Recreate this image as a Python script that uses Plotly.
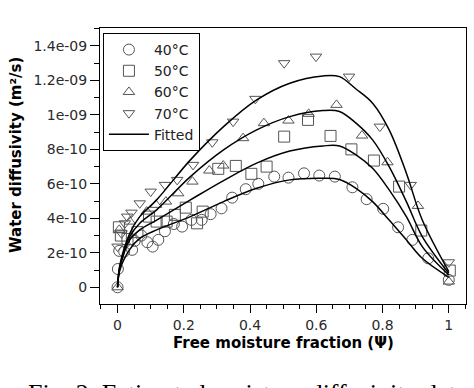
import numpy as np
import plotly.graph_objects as go

# Measured data (y in units of 1e-9 m^2/s)
x40 = [0, 0.001, 0.005, 0.02, 0.044, 0.052, 0.072, 0.09, 0.106, 0.123, 0.143, 0.17, 0.195, 0.223,
       0.254, 0.281, 0.314, 0.346, 0.387, 0.425, 0.473, 0.516, 0.563, 0.609, 0.656, 0.709, 0.752,
       0.802, 0.847, 0.89, 0.938, 1.0]
y40 = [0, 0.106, 0.211, 0.207, 0.217, 0.269, 0.30, 0.261, 0.236, 0.275, 0.325, 0.367, 0.352, 0.391,
       0.391, 0.424, 0.458, 0.52, 0.569, 0.60, 0.642, 0.636, 0.661, 0.648, 0.642, 0.58, 0.511,
       0.455, 0.348, 0.275, 0.168, 0.043]

x50 = [0.004, 0.01, 0.03, 0.06, 0.095, 0.118, 0.148, 0.173, 0.206, 0.24, 0.257, 0.304, 0.357, 0.404,
       0.45, 0.503, 0.575, 0.643, 0.706, 0.774, 0.85, 0.917, 1.003]
y50 = [0.348, 0.30, 0.28, 0.32, 0.41, 0.381, 0.381, 0.42, 0.462, 0.371, 0.439, 0.687, 0.704, 0.658,
       0.70, 0.874, 0.971, 0.878, 0.80, 0.735, 0.584, 0.329, 0.097]

x60 = [0, 0.005, 0.037, 0.088, 0.116, 0.146, 0.183, 0.226, 0.277, 0.319, 0.379, 0.442, 0.516, 0.577,
       0.661, 0.738, 0.815, 0.907, 1.0]
y60 = [0, 0.333, 0.381, 0.439, 0.478, 0.497, 0.545, 0.613, 0.677, 0.706, 0.865, 0.952, 0.967, 1.006,
       1.058, 0.88, 0.725, 0.472, 0.033]

x70 = [0, 0.012, 0.022, 0.029, 0.042, 0.067, 0.10, 0.143, 0.18, 0.228, 0.286, 0.349, 0.416, 0.503,
       0.599, 0.699, 0.792, 0.885, 1.0]
y70 = [0.236, 0.313, 0.371, 0.41, 0.433, 0.487, 0.555, 0.594, 0.623, 0.71, 0.841, 0.961, 1.093, 1.30,
       1.338, 1.222, 0.932, 0.594, 0.145]

# Fitted curves
xf = [0, 0.007, 0.037, 0.067, 0.118, 0.22, 0.32, 0.42, 0.52, 0.62, 0.67, 0.72, 0.77, 0.82, 0.872,
      0.92, 1.0]
f40 = [0, 0.10, 0.22, 0.284, 0.333, 0.41, 0.497, 0.574, 0.623, 0.632, 0.625, 0.574, 0.497, 0.39,
       0.275, 0.168, 0.058]
f50 = [0, 0.11, 0.275, 0.333, 0.39, 0.507, 0.619, 0.72, 0.79, 0.82, 0.82, 0.768, 0.69, 0.565,
       0.41, 0.236, 0.072]
f60 = [0, 0.12, 0.294, 0.371, 0.449, 0.642, 0.797, 0.913, 0.99, 1.025, 1.02, 0.952, 0.855, 0.70,
       0.497, 0.294, 0.081]
f70 = [0, 0.13, 0.313, 0.41, 0.507, 0.739, 0.932, 1.087, 1.184, 1.226, 1.222, 1.15, 1.068, 0.913,
       0.662, 0.39, 0.091]

series_names = ["40°C", "50°C", "60°C", "70°C"]
ytick_vals = [0, 0.2, 0.4, 0.6, 0.8, 1.0, 1.2, 1.4]
ytick_text = ["0", "2e-10", "4e-10", "6e-10", "8e-10", "1e-09", "1.2e-09", "1.4e-09"]
xtick_vals = [0, 0.2, 0.4, 0.6, 0.8, 1]
xtick_text = ["0", "0.2", "0.4", "0.6", "0.8", "1"]

S = 1e-9
fig = go.Figure()
symbols = ["circle-open", "square-open", "triangle-up-open", "triangle-down-open"]
sizes = [11, 11, 10, 10]
for name, xs, ys, sym, sz in zip(series_names, [x40, x50, x60, x70], [y40, y50, y60, y70], symbols, sizes):
    fig.add_trace(go.Scatter(x=xs, y=np.array(ys) * S, mode="markers", name=name,
                             marker=dict(symbol=sym, size=sz, color="#555555",
                                         line=dict(width=1, color="#555555"))))
for i, fy in enumerate([f40, f50, f60, f70]):
    fig.add_trace(go.Scatter(x=xf, y=np.array(fy) * S, mode="lines", name="Fitted",
                             line=dict(color="black", width=1.5, shape="spline", smoothing=1.0),
                             showlegend=(i == 0)))

tickfont = dict(family="DejaVu Sans", size=14, color="#2a2a2a")
fig.update_layout(
    width=474, height=388,
    margin=dict(l=100, r=8, t=28, b=84, autoexpand=False),
    plot_bgcolor="white", paper_bgcolor="white",
    showlegend=True,
    legend=dict(x=0.008, y=0.982, xanchor="left", yanchor="top",
                bordercolor="black", borderwidth=1, bgcolor="white",
                font=dict(family="DejaVu Sans", size=14, color="#222222"),
                tracegroupgap=0, itemwidth=40, entrywidth=72, entrywidthmode="pixels"),
    xaxis=dict(range=[-0.053, 1.052], tickvals=xtick_vals, ticktext=xtick_text,
               ticks="outside", ticklen=8, tickwidth=1, tickcolor="black",
               showline=True, linecolor="black", linewidth=1, mirror=True,
               showgrid=False, zeroline=False, tickfont=tickfont, automargin=False,
               minor=dict(dtick=0.05, tick0=0, ticks="outside", ticklen=4, tickcolor="black", showgrid=False)),
    yaxis=dict(range=[-0.097e-9, 1.504e-9], tickvals=[v * S for v in ytick_vals], ticktext=ytick_text,
               ticks="outside", ticklen=9, tickwidth=1, tickcolor="black",
               showline=True, linecolor="black", linewidth=1, mirror=True,
               showgrid=False, zeroline=False, tickfont=tickfont, automargin=False,
               minor=dict(dtick=0.1e-9, tick0=0, ticks="outside", ticklen=5, tickcolor="black", showgrid=False)),
)
# axis titles
fig.add_annotation(text="<b>Free moisture fraction (Ψ)</b>", xref="paper", yref="paper",
                   x=(283 - 100) / 366, y=-(343 - 304) / 276, xanchor="center", yanchor="middle",
                   showarrow=False, font=dict(family="DejaVu Sans", size=15, color="black"))
fig.add_annotation(text="<b>Water diffusivity (m²/s)</b>", xref="paper", yref="paper", textangle=-90,
                   x=-(100 - 16) / 366, y=(304 - 155) / 276, xanchor="center", yanchor="middle",
                   showarrow=False, font=dict(family="DejaVu Sans", size=15, color="black"))
fig.add_annotation(text="Fig. 2. Estimated moisture diffusivity data", xref="paper", yref="paper",
                   x=-(100 - 26) / 366, y=-(377 - 304) / 276, xanchor="left", yanchor="top", showarrow=False,
                   font=dict(family="Liberation Serif", size=26, color="black"))
fig.write_html("out.html", config={"displayModeBar": False},
               post_script="document.body.style.margin='0px';document.body.style.overflow='hidden';")
